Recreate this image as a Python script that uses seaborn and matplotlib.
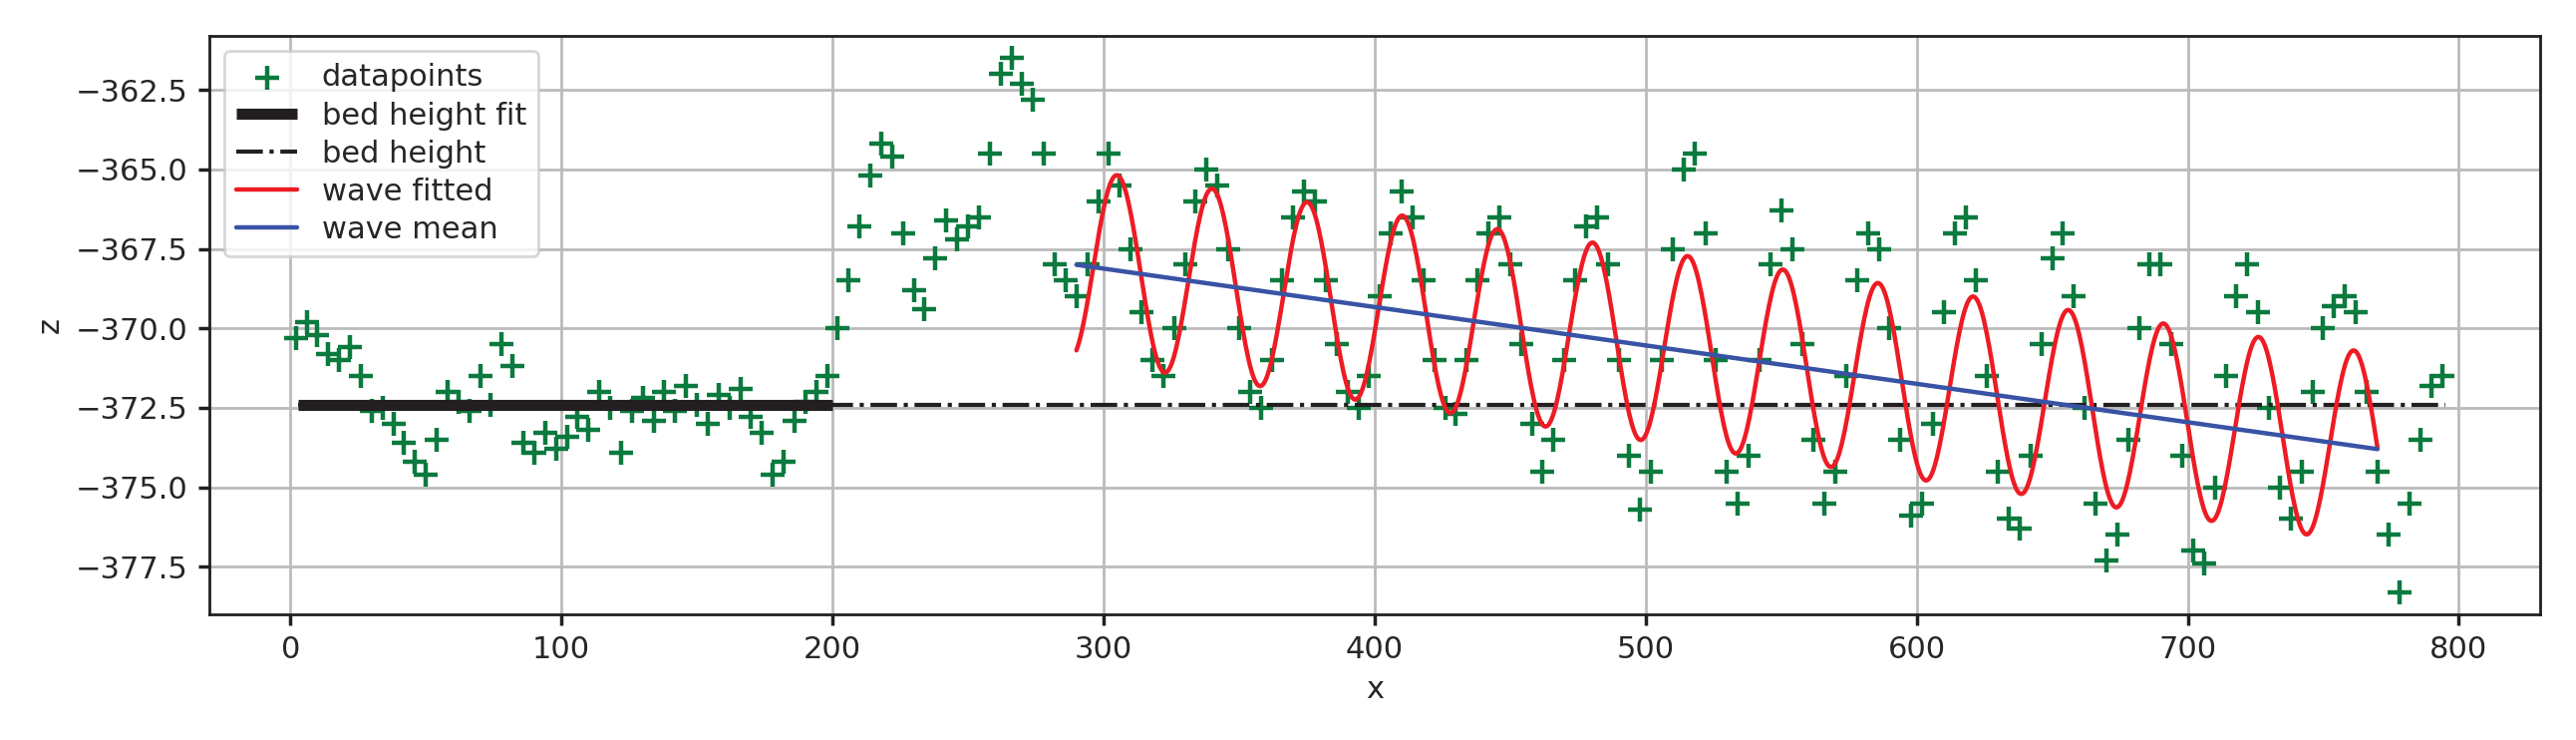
import numpy as np
import pandas as pd
import matplotlib
matplotlib.use("Agg")
import matplotlib.pyplot as plt
import seaborn as sns

x_data = list(range(2, 795, 4))
z_data = [
 -370.3,-369.8,-370.2,-370.8,-371.0,-370.6,-371.5,-372.6,
 -372.5,-373.0,-373.6,-374.2,-374.6,-373.5,-372.0,
 -372.3,-372.6,-371.5,-372.4,-370.5,-371.2,-373.6,-373.9,-373.3,-373.8,
 -373.4,-372.8,-373.2,-372.0,-372.5,-373.9,-372.6,-372.2,-372.9,-372.0,
 -372.6,-371.8,-372.4,-373.0,-372.1,-372.5,-371.9,-372.8,-373.3,-374.6,
 -374.2,-372.9,-372.3,-372.0,-371.5,
 -370.0,-368.5,-366.8,-365.2,-364.2,-364.6,-367.0,-368.8,-369.4,-367.8,
 -366.6,-367.2,-366.8,-366.5,-364.5,-362.0,-361.5,-362.3,-362.8,-364.5,
 -368.0,-368.5,-369.0,-368.0,-366.0,-364.5,-365.5,-367.5,-369.5,-371.0,
 -371.5,-370.0,-368.0,-366.0,-365.0,-365.5,-367.5,-370.0,-372.0,-372.5,
 -371.0,-368.5,-366.5,-365.7,-366.0,-368.5,-370.5,-372.0,-372.5,-371.5,
 -369.0,-367.0,-365.7,-366.5,-368.5,-371.0,-372.5,-372.7,-371.0,-368.5,
 -367.0,-366.5,-368.0,-370.5,-373.0,-374.5,-373.5,-371.0,-368.5,-366.8,
 -366.5,-368.0,-371.0,-374.0,-375.7,-374.5,-371.0,-367.5,-365.0,-364.5,
 -367.0,-371.0,-374.5,-375.5,-374.0,-371.0,-368.0,-366.3,-367.5,-370.5,
 -373.5,-375.5,-374.5,-371.5,-368.5,-367.0,-367.5,-370.0,-373.5,-375.9,
 -375.5,-373.0,-369.5,-367.0,-366.5,-368.5,-371.5,-374.5,-376.0,-376.3,
 -374.0,-370.5,-367.8,-367.0,-369.0,-372.5,-375.5,-377.3,-376.5,-373.5,
 -370.0,-368.0,-368.0,-370.5,-374.0,-377.0,-377.4,-375.0,-371.5,-369.0,
 -368.0,-369.5,-372.5,-375.0,-376.0,-374.5,-372.0,-370.0,-369.3,-369.0,
 -369.5,-372.0,-374.5,-376.5,-378.3,-375.5,-373.5,-371.8,-371.5,
]

bed_height = -372.4
bed_fit_range = [3, 200]
bed_range = [3, 795]
wave_range = [290, 770]
wave_mean_ends = [-368.0, -373.8]
wave_amplitude = 3.0
wave_period = 35.1
wave_peak_x = 305.0

sns.set_theme(style="whitegrid")
plt.rcParams['font.family'] = ['DejaVu Sans']
fig, ax = plt.subplots(figsize=(12.92, 3.71), dpi=200)

df = pd.DataFrame({"x": x_data[:len(z_data)], "z": z_data})
sns.scatterplot(data=df, x="x", y="z", marker="+", s=80, color="#0b7a3e",
                linewidth=1.6, ax=ax, label="datapoints", zorder=2)

ax.plot(bed_fit_range, [bed_height]*2, color="#231f20", lw=4, solid_capstyle="butt",
        label="bed height fit", zorder=3)
ax.plot(bed_range, [bed_height]*2, color="#231f20", lw=1.5, ls="-.", label="bed height", zorder=3)

xw = np.linspace(wave_range[0], wave_range[1], 1000)
mean_w = np.interp(xw, wave_range, wave_mean_ends)
zw = mean_w + wave_amplitude*np.cos(2*np.pi*(xw - wave_peak_x)/wave_period)
ax.plot(xw, zw, color="#ed1c24", lw=1.6, label="wave fitted", zorder=4)
ax.plot(wave_range, wave_mean_ends, color="#3953a4", lw=1.6, label="wave mean", zorder=5)

ax.set_xlim(-30, 830)
ax.set_ylim(-379.0, -360.8)
ax.set_yticks(np.arange(-377.5, -361, 2.5))
ax.set_yticklabels([f"\u2212{abs(v):.1f}" for v in np.arange(-377.5, -361, 2.5)])
ax.set_xlabel("x", fontsize=11)
ax.set_ylabel("z", fontsize=11)
ax.tick_params(axis='both', labelsize=11, length=4, left=True, bottom=True, color="#231f20")
for s in ax.spines.values():
    s.set_color("#231f20"); s.set_linewidth(1.0)
ax.grid(color="#bbbbbb", lw=1.0)
ax.legend(loc="upper left", fontsize=11, framealpha=0.8, labelspacing=0.3)
fig.tight_layout()
fig.savefig("out.png", dpi=200)
